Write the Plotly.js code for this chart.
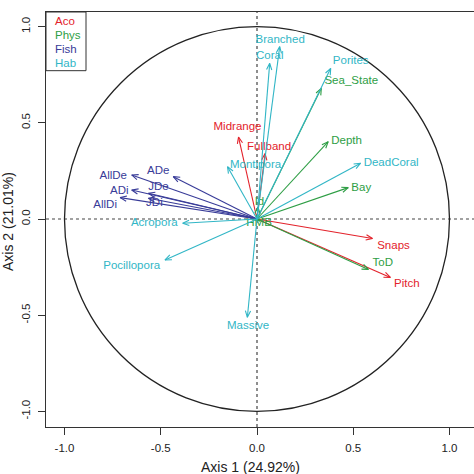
<!DOCTYPE html>
<html>
<head>
<meta charset="utf-8">
<script src="https://cdn.plot.ly/plotly-3.0.1.min.js"></script>
<style>
  html, body { margin: 0; padding: 0; overflow: hidden; background: #fff; }
  #chart { width: 494px; height: 474px; }
</style>
</head>
<body>
<div id="chart"></div>
<script>
// Correlation circle: loadings of each variable on PCA axes 1 and 2.
// Acoustic variables
const acoNames = ['Midrange', 'Fullband', 'Snaps', 'Pitch'];
const acoX = [-0.096, 0.042, 0.600, 0.693];
const acoY = [0.426, 0.340, -0.101, -0.304];

// Physical variables
const physNames = ['Sea_State', 'Depth', 'Bay', 'ToD', 'Id', 'HMB'];
const physX = [0.334, 0.370, 0.474, 0.579, 0.005, 0.016];
const physY = [0.679, 0.402, 0.163, -0.262, 0.062, -0.010];

// Fish variables
const fishNames = ['AllDe', 'ADe', 'JDe', 'ADi', 'AllDi', 'JDi'];
const fishX = [-0.651, -0.435, -0.564, -0.651, -0.711, -0.564];
const fishY = [0.229, 0.220, 0.134, 0.151, 0.111, 0.108];

// Habitat variables
const habNames = ['Acropora', 'Pocillopora', 'Massive', 'Montipora', 'Branched', 'Coral', 'Porites', 'DeadCoral'];
const habX = [-0.386, -0.478, -0.050, -0.153, 0.118, 0.066, 0.383, 0.538];
const habY = [-0.022, -0.213, -0.511, 0.272, 0.896, 0.809, 0.783, 0.290];

// Group names as shown in the key
const groupLabels = ['Aco', 'Phys', 'Fish', 'Hab'];

// ---- styling ----
const groupColors = ['#e3222b', '#2e9e45', '#383b98', '#31b6c6'];
const FONT = 'Liberation Sans, Arial, Helvetica, sans-serif';
const PX = 192.5;              // pixels per unit on both axes
const HEAD_LEN = 7 / PX;       // arrowhead barb length
const HEAD_ANG = 22 * Math.PI / 180;

// label nudges in pixels (right, down) from each arrow tip
const labelNudge = {
  Midrange: [-1, -10], Fullband: [4, -6], Snaps: [21, 7.5], Pitch: [16.5, 6.5],
  Sea_State: [30, -7.6], Depth: [18.4, -0.7], Bay: [13, 0], ToD: [14.4, -6.2],
  Id: [1.5, -4.5], HMB: [-1, 2],
  AllDe: [-18.4, 1], ADe: [-15, -6], JDe: [10, -6], ADi: [-12.4, 1], AllDi: [-15, 7], JDi: [6, 5],
  Acropora: [-28.4, -0.6], Pocillopora: [-33.3, 6.3], Massive: [0.7, 8.4], Montipora: [28, -1.7],
  Branched: [0.5, -6], Coral: [0, -7.3], Porites: [20, -7.3], DeadCoral: [30.6, 0]
};

const groups = [
  {names: acoNames, x: acoX, y: acoY},
  {names: physNames, x: physX, y: physY},
  {names: fishNames, x: fishX, y: fishY},
  {names: habNames, x: habX, y: habY}
];

const traces = [];
groups.forEach((g, gi) => {
  const lx = [], ly = [];
  const tx = [], ty = [];
  g.names.forEach((name, i) => {
    const x = g.x[i], y = g.y[i];
    const th = Math.atan2(y, x);
    // shaft
    lx.push(0, x, null);
    ly.push(0, y, null);
    // open arrowhead
    lx.push(x - HEAD_LEN * Math.cos(th + HEAD_ANG), x, x - HEAD_LEN * Math.cos(th - HEAD_ANG), null);
    ly.push(y - HEAD_LEN * Math.sin(th + HEAD_ANG), y, y - HEAD_LEN * Math.sin(th - HEAD_ANG), null);
    const n = labelNudge[name] || [0, 0];
    tx.push(x + n[0] / PX);
    ty.push(y - n[1] / PX);
  });
  traces.push({
    type: 'scatter', mode: 'lines', x: lx, y: ly,
    line: {color: groupColors[gi], width: 1.1},
    hoverinfo: 'skip', showlegend: false, cliponaxis: false
  });
  traces.push({
    type: 'scatter', mode: 'text', x: tx, y: ty, text: g.names,
    textposition: 'middle center',
    textfont: {family: FONT, size: 11.5, color: groupColors[gi]},
    hoverinfo: 'skip', showlegend: false, cliponaxis: false
  });
});

// key box entries
const keyY = [0.9783, 0.9446, 0.9101, 0.8764];
const annotations = groupLabels.map((t, i) => ({
  xref: 'paper', yref: 'paper', x: 0.0163, y: keyY[i],
  xanchor: 'left', yanchor: 'middle', showarrow: false,
  text: t, font: {family: FONT, size: 11.5, color: groupColors[i]}
}));
annotations.push({
  xref: 'paper', yref: 'paper', x: 0.4554, y: -0.0952,
  xanchor: 'center', yanchor: 'middle', showarrow: false,
  text: 'Axis 1 (24.92%)', font: {family: FONT, size: 14, color: '#222'}
});
annotations.push({
  xref: 'paper', yref: 'paper', x: -0.0848, y: 0.494,
  xanchor: 'center', yanchor: 'middle', showarrow: false, textangle: -90,
  text: 'Axis 2 (21.01%)', font: {family: FONT, size: 14, color: '#222'}
});

const shapes = [
  // unit circle
  {type: 'circle', xref: 'x', yref: 'y', x0: -1, x1: 1, y0: -1, y1: 1,
   line: {color: '#222', width: 1.3}, layer: 'below'},
  // dashed reference axes
  {type: 'line', xref: 'x', yref: 'paper', x0: 0, x1: 0, y0: 0, y1: 1,
   line: {color: '#444', width: 1.2, dash: '3px,3px'}, layer: 'below'},
  {type: 'line', xref: 'paper', yref: 'y', x0: 0, x1: 1, y0: 0, y1: 0,
   line: {color: '#444', width: 1.2, dash: '3px,3px'}, layer: 'below'},
  // key frame
  {type: 'rect', xref: 'paper', yref: 'paper', x0: 0, x1: 0.0893, y0: 0.8586, y1: 1,
   line: {color: '#333', width: 1}, fillcolor: 'rgba(0,0,0,0)'}
];

const tickVals = [-1, -0.5, 0, 0.5, 1];
const tickText = ['-1.0', '-0.5', '0.0', '0.5', '1.0'];

const axisCommon = {
  tickvals: tickVals, ticktext: tickText,
  ticks: 'outside', ticklen: 7, tickwidth: 1, tickcolor: '#333',
  showline: true, mirror: true, linecolor: '#333', linewidth: 1,
  showgrid: false, zeroline: false,
  tickfont: {family: FONT, size: 11.5, color: '#222'},
  fixedrange: true
};

const layout = {
  width: 494, height: 474,
  margin: {l: 46, r: 0, t: 12, b: 47},
  paper_bgcolor: '#fff', plot_bgcolor: '#fff',
  xaxis: Object.assign({}, axisCommon, {range: [-1.0961, 1.2312], ticklabelstandoff: 3}),
  yaxis: Object.assign({}, axisCommon, {range: [-1.0811, 1.0759], tickangle: -90, ticklabelstandoff: 3}),
  shapes: shapes,
  annotations: annotations,
  showlegend: false
};

Plotly.newPlot('chart', traces, layout, {displayModeBar: false, staticPlot: true});
</script>
</body>
</html>
